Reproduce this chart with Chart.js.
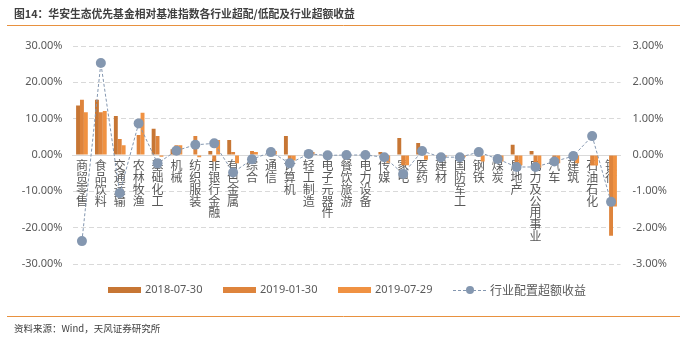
<!DOCTYPE html>
<html>
<head>
<meta charset="utf-8">
<script src="https://cdn.jsdelivr.net/npm/chart.js@4/dist/chart.umd.min.js"></script>
<style>
html,body{margin:0;padding:0;background:#fff;}
#wrap{position:relative;width:687px;height:340px;}
</style>
</head>
<body>
<div id="wrap"><canvas id="c" width="687" height="340"></canvas></div>
<script>
const titleText = '图14：华安生态优先基金相对基准指数各行业超配/低配及行业超额收益';
const sourceText = '资料来源：Wind，天风证券研究所';
const categories = ['商贸零售','食品饮料','交通运输','农林牧渔','基础化工','机械','纺织服装','非银行金融','有色金属','综合','通信','计算机','轻工制造','电子元器件','餐饮旅游','电力设备','传媒','家电','医药','建材','国防军工','钢铁','煤炭','房地产','电力及公用事业','汽车','建筑','石油石化','银行'];
const seriesNames = ['2018-07-30','2019-01-30','2019-07-29','行业配置超额收益'];
const s20180730 = [13.6, 15.2, 10.7, 0, 7.2, 1.6, 0, 1.1, 4.1, 0, 0, 5.2, 0, 0, 0, 0, 0.8, 4.7, 3.3, 0, 0, 0, 0, 2.8, 1.1, 0, 0, 0, 0];
const s20190130 = [15.2, 11.8, 4.4, 5.5, 5.2, 2.7, 5.2, -1.8, 0.8, 1.1, 0, -2.2, 0, 0, 0, 0, 0.3, -2.8, 2.2, -0.3, -0.3, -0.3, -1.5, -2.8, -3.5, -2.0, -0.5, -2.9, -22.2];
const s20190729 = [11.8, 12.1, 2.7, 11.6, -0.5, 2.7, -0.6, 4.1, -2.3, 0.8, 1.1, -1.5, 0.8, 0, 0, 0, -2.1, -2.8, -1.3, -0.5, -0.6, -1.8, -1.8, -2.8, -3.5, -2.3, -2.3, -2.9, -14.2];
const excessReturn = [-2.37, 2.53, -1.05, 0.87, -0.23, 0.12, 0.28, 0.32, -0.48, -0.12, 0.08, -0.23, 0.03, -0.01, 0, 0, -0.06, -0.52, 0.11, -0.06, -0.06, 0.08, -0.11, -0.33, -0.33, -0.18, -0.03, 0.52, -1.29];
const leftTicks = [-30, -20, -10, 0, 10, 20, 30];
const rightTicks = [-3, -2, -1, 0, 1, 2, 3];

const colors = ['#C77634', '#DE843C', '#F09242', '#8497B0'];
const latin = "'Noto Sans', 'Noto Sans CJK SC', sans-serif";
const cjk = "'Noto Sans CJK SC', 'Noto Sans', sans-serif";

const decor = {
  id: 'decor',
  afterDraw(chart) {
    const ctx = chart.ctx;
    ctx.save();
    // title
    ctx.fillStyle = '#404040';
    ctx.font = "bold 10.8px " + cjk;
    ctx.textBaseline = 'middle';
    ctx.textAlign = 'left';
    ctx.fillText(titleText, 14, 14);
    ctx.strokeStyle = '#E8913F';
    ctx.lineWidth = 1;
    ctx.beginPath(); ctx.moveTo(7, 25.5); ctx.lineTo(680, 25.5); ctx.stroke();
    ctx.beginPath(); ctx.moveTo(7, 316.5); ctx.lineTo(680, 316.5); ctx.stroke();
    // source
    ctx.fillStyle = '#404040';
    ctx.font = "9.5px " + cjk;
    ctx.fillText(sourceText, 14, 328);
    // legend
    const ds = chart.data.datasets;
    const ly = 290;
    const xs = [108, 223, 338];
    for (let i = 0; i < 3; i++) {
      ctx.fillStyle = ds[i].backgroundColor;
      ctx.fillRect(xs[i], ly - 3, 33, 6);
      ctx.fillStyle = '#595959';
      ctx.font = "11px " + latin;
      ctx.fillText(ds[i].label, xs[i] + 37, ly);
    }
    const lx = 453;
    ctx.strokeStyle = ds[3].borderColor;
    ctx.lineWidth = 1;
    ctx.setLineDash([3, 2]);
    ctx.beginPath(); ctx.moveTo(lx, ly + 0.5); ctx.lineTo(lx + 34, ly + 0.5); ctx.stroke();
    ctx.setLineDash([]);
    ctx.fillStyle = ds[3].pointBackgroundColor;
    ctx.beginPath(); ctx.arc(lx + 17, ly, 4, 0, Math.PI * 2); ctx.fill();
    ctx.fillStyle = '#595959';
    ctx.font = "12px " + cjk;
    ctx.fillText(ds[3].label, lx + 37, ly);
    ctx.restore();
  }
};

new Chart(document.getElementById('c'), {
  type: 'bar',
  data: {
    labels: categories.map(s => s.split('')),
    datasets: [
      { label: seriesNames[0], data: s20180730, backgroundColor: colors[0], yAxisID: 'y', order: 2 },
      { label: seriesNames[1], data: s20190130, backgroundColor: colors[1], yAxisID: 'y', order: 2 },
      { label: seriesNames[2], data: s20190729, backgroundColor: colors[2], yAxisID: 'y', order: 2 },
      { type: 'line', label: seriesNames[3], data: excessReturn, yAxisID: 'y2', order: 0,
        borderColor: colors[3], borderWidth: 1, borderDash: [3, 2], fill: false, tension: 0,
        pointRadius: 5, pointHoverRadius: 5, pointBackgroundColor: colors[3], pointBorderColor: colors[3], pointBorderWidth: 0 }
    ]
  },
  options: {
    responsive: false,
    animation: false,
    events: [],
    layout: { padding: { left: 0, right: 0, top: 46, bottom: 76 } },
    datasets: { bar: { categoryPercentage: 0.62, barPercentage: 1.0 } },
    plugins: { legend: { display: false }, tooltip: { enabled: false }, title: { display: false } },
    scales: {
      x: {
        position: { y: 0 },
        z: 1,
        grid: { display: true, color: 'rgba(0,0,0,0)', drawTicks: false },
        border: { display: true, color: '#D9D9D9', width: 1 },
        ticks: { autoSkip: false, maxRotation: 0, minRotation: 0, padding: 5,
                 color: '#595959', font: { family: cjk, size: 12, lineHeight: 0.98 } }
      },
      y: {
        position: 'left',
        min: -30, max: 30,
        afterBuildTicks(scale) { scale.ticks = leftTicks.map(v => ({ value: v })); },
        afterFit(scale) { scale.width = 72.5; },
        grid: { color: ctx => ctx.tick && ctx.tick.value === 0 ? 'rgba(0,0,0,0)' : '#D9D9D9', drawTicks: false, lineWidth: 1 },
        border: { display: false, dash: [5, 3] },
        ticks: { padding: 10, color: '#595959', font: { family: latin, size: 11 },
                 callback: v => v.toFixed(2) + '%' }
      },
      y2: {
        position: 'right',
        min: -3, max: 3,
        afterBuildTicks(scale) { scale.ticks = rightTicks.map(v => ({ value: v })); },
        afterFit(scale) { scale.width = 66.5; },
        grid: { display: false, drawTicks: false },
        border: { display: false },
        ticks: { padding: 12, color: '#595959', font: { family: latin, size: 11 },
                 callback: v => v.toFixed(2) + '%' }
      }
    }
  },
  plugins: [decor]
});
</script>
</body>
</html>
